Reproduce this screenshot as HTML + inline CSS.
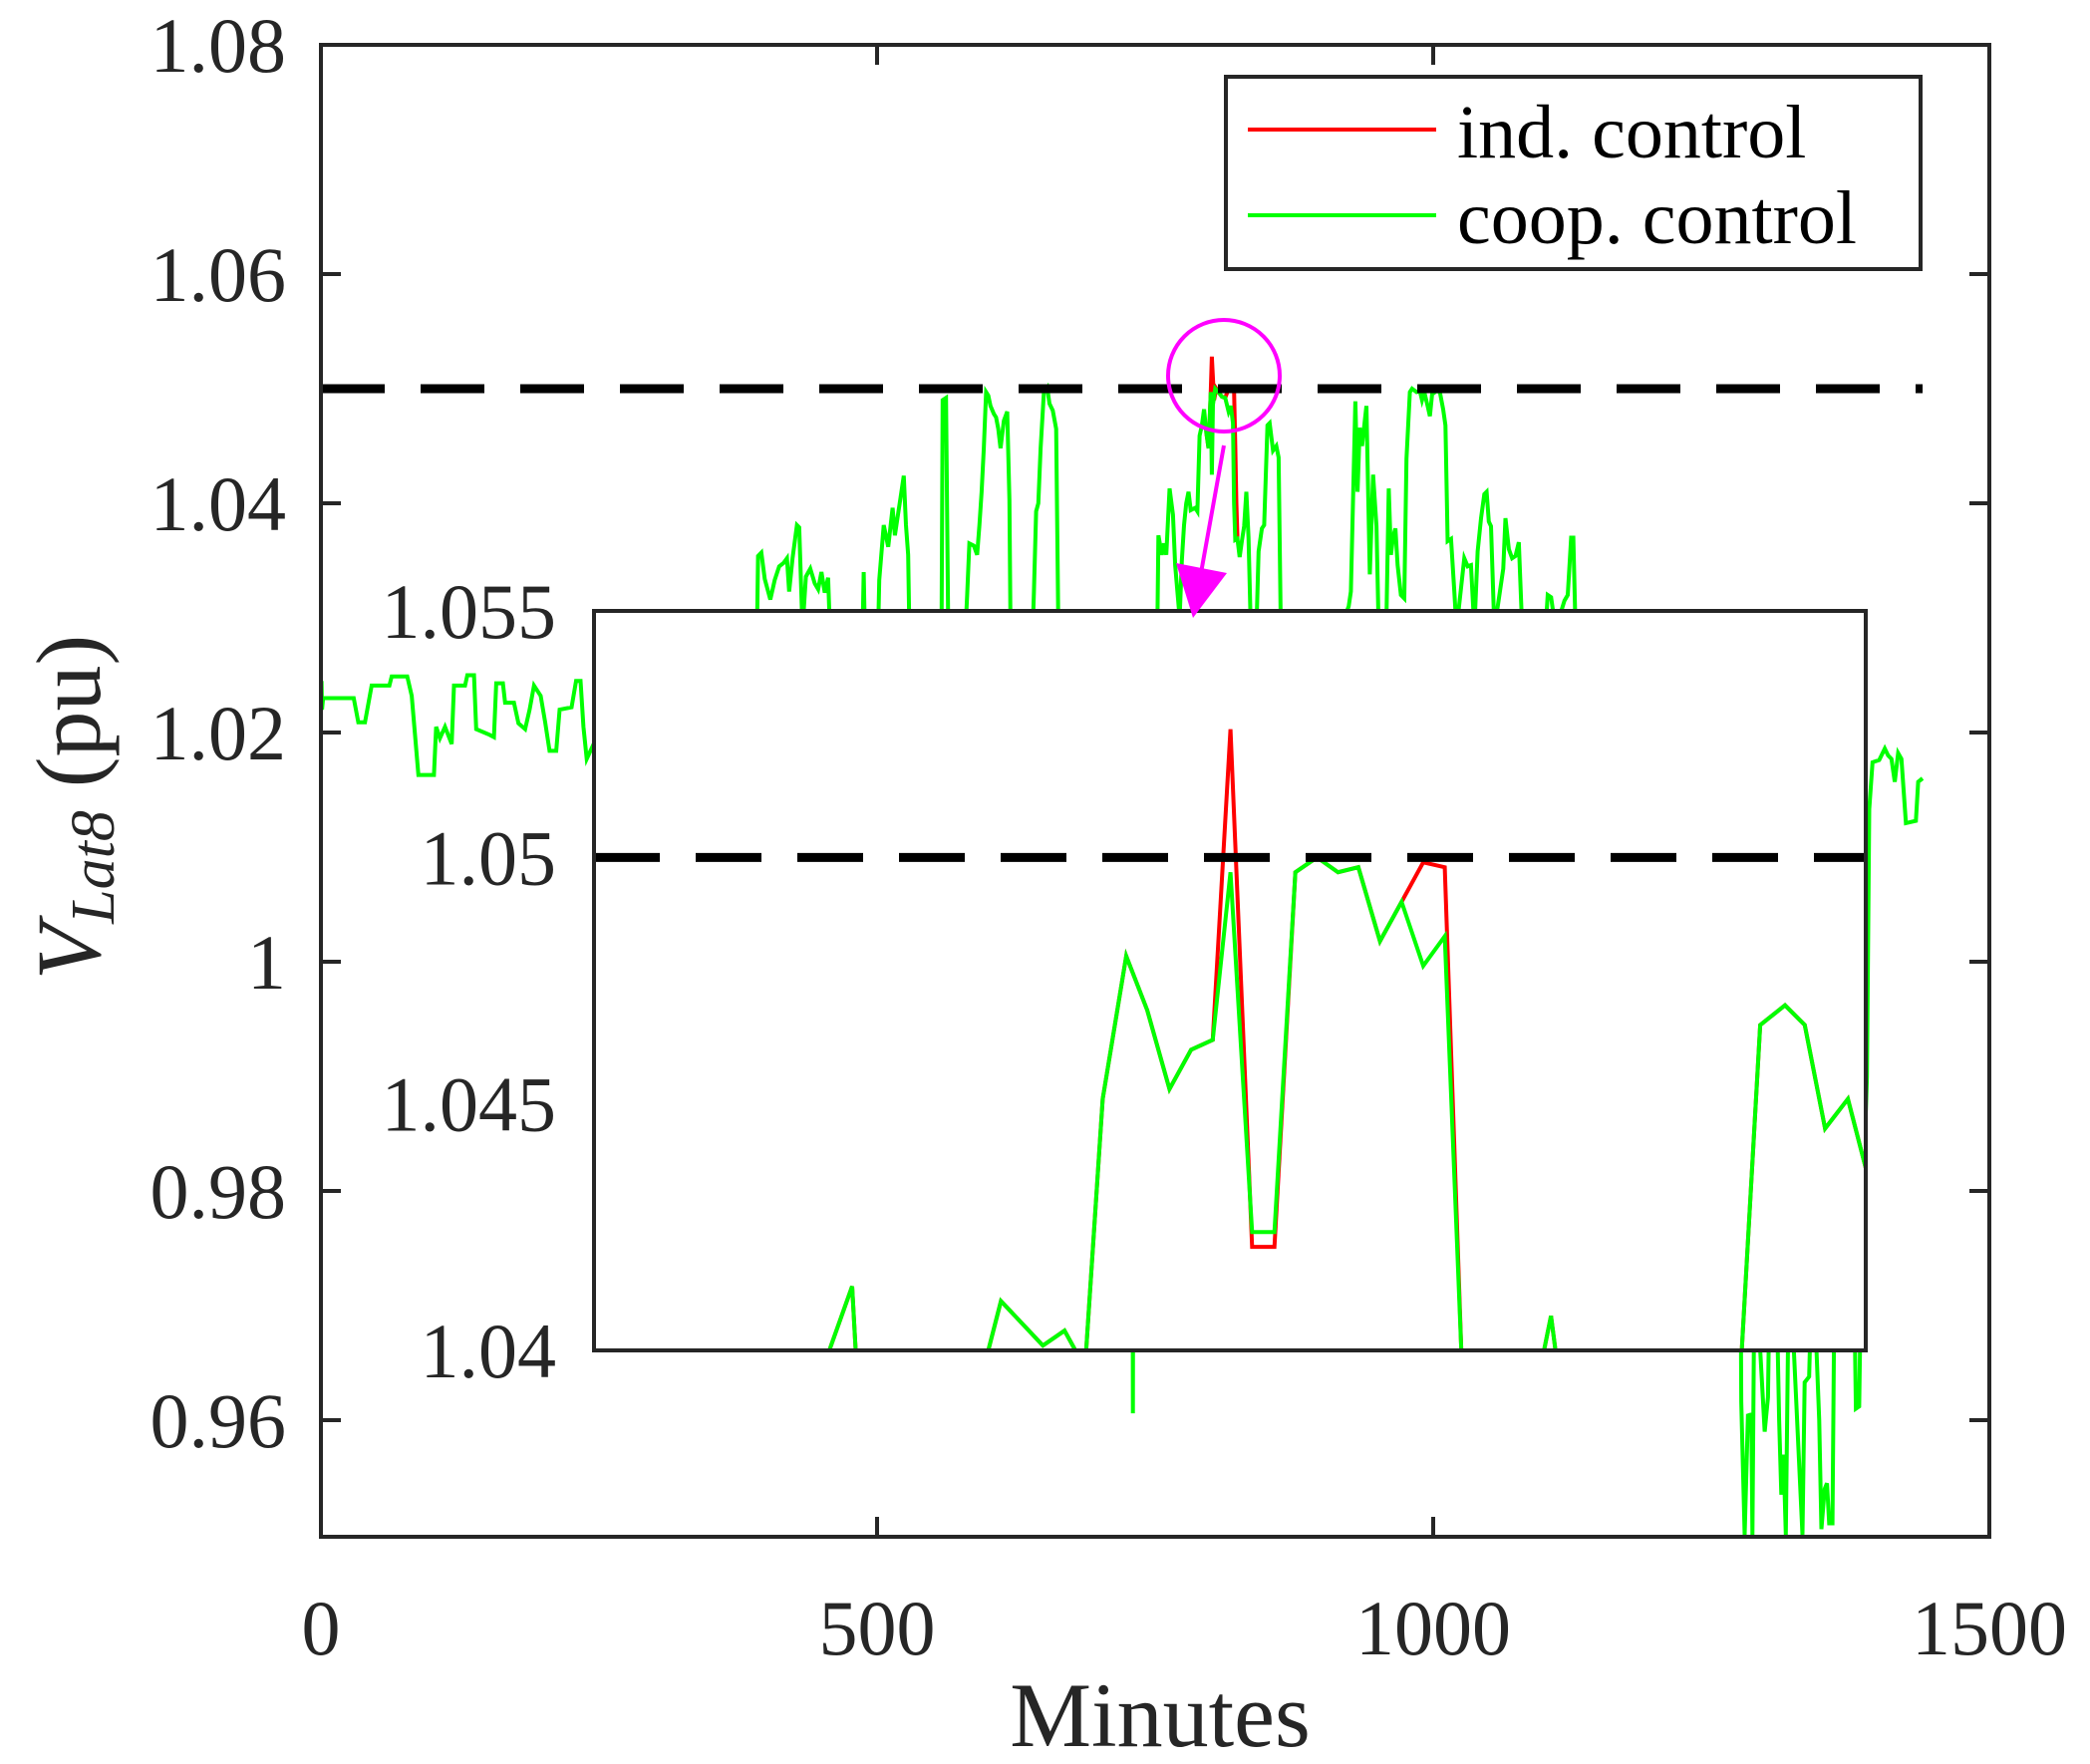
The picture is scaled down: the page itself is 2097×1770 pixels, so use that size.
<!DOCTYPE html>
<html><head><meta charset="utf-8">
<style>
html,body{margin:0;padding:0;background:#fff;}
svg{display:block;}
text{font-family:"Liberation Serif",serif;fill:#262626;}
</style></head>
<body>
<svg id="chart" width="2097" height="1770" viewBox="0 0 2097 1770" xmlns="http://www.w3.org/2000/svg">
<defs>
<clipPath id="mainClip"><rect x="322" y="45" width="1674" height="1497"/></clipPath>
<clipPath id="insetClip"><rect x="596" y="613" width="1276" height="742"/></clipPath>
</defs>
<rect x="0" y="0" width="2097" height="1770" fill="#fff"/>
<g id="mainLayer"></g>
<g id="insetLayer"></g>
<g id="annot"></g>
<g id="legend">
<rect x="1230" y="77" width="697" height="193" fill="#fff" stroke="#262626" stroke-width="4"/>
<line x1="1252" y1="130" x2="1441" y2="130" stroke="#ff0000" stroke-width="4"/>
<text x="1462" y="158" font-size="76" style="fill:#000">ind. control</text>
<line x1="1252" y1="216" x2="1441" y2="216" stroke="#00ff00" stroke-width="4"/>
<text x="1462" y="244" font-size="76" style="fill:#000">coop. control</text>
</g>
<text x="1164" y="1752" font-size="92" text-anchor="middle">Minutes</text>
<text transform="translate(100,810) rotate(-90)" font-size="92" text-anchor="middle"><tspan font-style="italic">V</tspan><tspan font-style="italic" font-size="62" dy="14">Lat8</tspan><tspan dy="-14"> (pu)</tspan></text>
</svg>
<script>
// ---- main chart data ----
const mainMinutes = [0.5,1,2,29.5,33.6,39.6,45.6,61.6,63.6,77.6,81.6,87.6,101.6,103.6,107,111.6,117.6,119.6,129.6,131.6,137.6,139.6,151.6,155.6,157.6,163.6,165.6,173.6,177.6,183.6,187.6,191.6,197.6,201.6,205.6,211.6,214.6,225.4,229.4,233.4,236,239,250,300,360,392,393,396,399,404,408,412,416,419,421,424,428,430,433,436,440,444,447,450,453,456,458,487,488,489,501,502,506,510,514,516,518,521,524,526,528,529,558,559,562,564,580,581,583,587,590,592,594,596,598,600,602,605,607,609,611,614,617,619,620,640,641,643,645,647,650,653,655,658,661,663,700,729,730,731,752,753,756,758,760,763,766,768,772,774,776,778,780,782,786,788,790,792,794,796,798,800,801,802,804,807,810,813,816,818,820,821,822,824,826,828,830,832,834,836,841,843,846,848,851,853,856,859,861,863,900,924,926,930,932,934,936,940,943,946,949,951,958,960,962,964,966,968,971,974,976,979,981,985,988,990,992,995,997,999,1003,1006,1009,1011,1013,1016,1019,1021,1028,1031,1034,1037,1040,1043,1046,1048,1050,1052,1055,1063,1065,1068,1071,1074,1077,1080,1101,1103,1106,1110,1118,1121,1124,1126,1128,1200,1275,1277,1280,1283,1286,1287,1289,1298,1301,1303,1308,1311,1313,1315,1317,1320,1332,1334,1338,1341,1347,1349,1352,1354,1356,1359,1361,1378,1380,1383,1385,1390,1392,1395,1401,1406,1409,1412,1415,1418,1421,1425,1434,1436,1440];
const mainValues = [1.0245,1.022,1.023,1.023,1.0209,1.0209,1.0241,1.0241,1.0249,1.0249,1.0232,1.0163,1.0163,1.0205,1.0195,1.0205,1.019,1.0241,1.0241,1.025,1.025,1.0203,1.0198,1.0196,1.0243,1.0243,1.0226,1.0226,1.0208,1.0203,1.022,1.0241,1.0232,1.0209,1.0184,1.0184,1.022,1.0222,1.0245,1.0245,1.0205,1.0177,1.020,1.025,1.027,1.0288,1.0354,1.0357,1.0334,1.0316,1.0333,1.0345,1.0348,1.0352,1.0323,1.0352,1.0381,1.0379,1.029,1.0336,1.0343,1.033,1.0325,1.034,1.0322,1.0335,1.028,1.029,1.034,1.029,1.029,1.0333,1.0381,1.0362,1.0396,1.0372,1.0385,1.0404,1.0424,1.0381,1.0355,1.029,1.029,1.049,1.0492,1.029,1.030,1.032,1.0365,1.0363,1.0355,1.0381,1.041,1.0448,1.0497,1.0494,1.0485,1.0478,1.0475,1.0465,1.0448,1.0472,1.048,1.0403,1.029,1.029,1.0323,1.0393,1.040,1.0448,1.0497,1.0501,1.0487,1.0481,1.0465,1.029,1.025,1.02,0.9606,1.02,1.029,1.0372,1.0355,1.0365,1.0355,1.0413,1.039,1.0346,1.030,1.035,1.0381,1.040,1.041,1.0394,1.0396,1.0393,1.0459,1.0468,1.0482,1.0462,1.0448,1.0497,1.0425,1.0486,1.050,1.0497,1.0493,1.0492,1.048,1.0485,1.047,1.040,1.0368,1.0369,1.0353,1.0367,1.038,1.041,1.037,1.029,1.029,1.0358,1.0378,1.0381,1.0468,1.047,1.0446,1.045,1.044,1.029,1.025,1.031,1.0323,1.0489,1.041,1.0466,1.045,1.0485,1.0338,1.0425,1.038,1.029,1.030,1.0413,1.0355,1.0371,1.0378,1.0346,1.032,1.0317,1.0439,1.0497,1.050,1.0497,1.0498,1.049,1.0497,1.0485,1.0476,1.0495,1.0498,1.0497,1.0482,1.0468,1.0367,1.0369,1.0323,1.029,1.0352,1.0345,1.0346,1.029,1.0358,1.0387,1.0408,1.041,1.0384,1.038,1.029,1.0343,1.0387,1.036,1.0352,1.0354,1.0366,1.029,1.029,1.032,1.0318,1.029,1.0315,1.032,1.037,1.037,1.029,1.02,1.0,0.9616,0.950,0.9604,0.9605,0.950,0.975,0.959,0.962,0.975,0.975,0.960,0.9535,0.957,0.950,0.975,0.950,0.9633,0.9638,0.975,0.960,0.9505,0.954,0.9545,0.951,0.951,0.975,0.975,0.961,0.9612,0.975,0.990,1.0133,1.0174,1.0176,1.0186,1.018,1.0177,1.0157,1.0182,1.0177,1.0121,1.0123,1.0157,1.016];
// red (ind. control) differs only around the spike
const redMinutes = [796,798,800,801,803,805,807,810,813,816,818,820,821,822,823,824];
const redValues = [1.0462,1.0448,1.0497,1.0528,1.049,1.050,1.0497,1.0493,1.0492,1.050,1.050,1.050,1.0498,1.045,1.040,1.0369];
const xTicks = [0,500,1000,1500];
const xTickLabels = ["0","500","1000","1500"];
const yTicks = [0.96,0.98,1.0,1.02,1.04,1.06,1.08];
const yTickLabels = ["0.96","0.98","1","1.02","1.04","1.06","1.08"];
const limitValue = [1.05];
// ---- inset data ----
const insetMinutes = [725,737,740.6,742,760,762,764,770.6,774,775.7,776.5,777.4,780,783.7,787,790.5,793.9,797.3,800.1,803.5,807,810.3,813.7,817,820.2,823.6,827,830.4,833.8,836.4,837,849,849.4,850.5,851.2,852,879,880.5,883.4,887.3,890.4,893.6,897.2,900];
const insetGreen = [1.038,1.040,1.0413,1.038,1.038,1.040,1.041,1.0401,1.0404,1.040,1.0395,1.040,1.0451,1.048,1.0469,1.0453,1.0461,1.0463,1.0497,1.0424,1.0424,1.0497,1.050,1.0497,1.0498,1.0483,1.0491,1.0478,1.0484,1.040,1.038,1.038,1.040,1.0407,1.040,1.038,1.038,1.040,1.0466,1.047,1.0466,1.0445,1.0451,1.0437];
const insetRed = [1.038,1.040,1.0413,1.038,1.038,1.040,1.041,1.0401,1.0404,1.040,1.0395,1.040,1.0451,1.048,1.0469,1.0453,1.0461,1.0463,1.0526,1.0421,1.0421,1.0497,1.050,1.0497,1.0498,1.0483,1.0491,1.0499,1.0498,1.040,1.038,1.038,1.040,1.0407,1.040,1.038,1.038,1.040,1.0466,1.047,1.0466,1.0445,1.0451,1.0437];
const insetYTicks = [1.04,1.045,1.05,1.055];
const insetYTickLabels = ["1.04","1.045","1.05","1.055"];

const NS = "http://www.w3.org/2000/svg";
function X(m){return 322 + (m-0)/1500*1674;}
function Y(v){return 45 + (1.08-v)/0.13*1495;}
function IX(m){return 596 + (m-700)/200*1276;}
function IY(v){return 613 + (1.055-v)/0.015*742;}
function mk(tag, parent){const e=document.createElementNS(NS,tag);parent.appendChild(e);return e;}
function pts(xs,vs,fx,fy){return xs.map((m,i)=>fx(m).toFixed(1)+","+fy(vs[i]).toFixed(1)).join(" ");}

const main = document.getElementById("mainLayer");
const mg = mk("g", main);
mg.setAttribute("clip-path","url(#mainClip)");
const redLine = mk("polyline", mg);


redLine.setAttribute("points", pts(redMinutes, redValues, X, Y));
redLine.setAttribute("fill","none"); redLine.setAttribute("stroke","#ff0000"); redLine.setAttribute("stroke-width","4");
const greenLine = mk("polyline", mg);


greenLine.setAttribute("points", pts(mainMinutes, mainValues, X, Y));
greenLine.setAttribute("fill","none"); greenLine.setAttribute("stroke","#00ff00"); greenLine.setAttribute("stroke-width","4");
const dash = mk("line", mg);


dash.setAttribute("x1",X(0)); dash.setAttribute("x2",X(1440));
dash.setAttribute("y1",Y(limitValue[0])); dash.setAttribute("y2",Y(limitValue[0]));
dash.setAttribute("stroke","#000"); dash.setAttribute("stroke-width","9"); dash.setAttribute("stroke-dasharray","64 36");

// axes box
const box = mk("rect", main);


box.setAttribute("x",322); box.setAttribute("y",45); box.setAttribute("width",1674); box.setAttribute("height",1497);
box.setAttribute("fill","none"); box.setAttribute("stroke","#262626"); box.setAttribute("stroke-width","4");
xTicks.forEach((t,i)=>{
  const x = X(t);
  [[1542,1522],[45,65]].forEach(([a,b])=>{
    const l = mk("line", main);
    
    
    l.setAttribute("x1",x);l.setAttribute("x2",x);l.setAttribute("y1",a);l.setAttribute("y2",b);
    l.setAttribute("stroke","#262626");l.setAttribute("stroke-width","4");
  });
  const tx = mk("text", main);
  
  
  tx.setAttribute("x",x); tx.setAttribute("y",1660); tx.setAttribute("font-size","78"); tx.setAttribute("text-anchor","middle");
  tx.textContent = xTickLabels[i];
});
yTicks.forEach((t,i)=>{
  const y = Y(t);
  [[322,342],[1996,1976]].forEach(([a,b])=>{
    const l = mk("line", main);
    
    
    l.setAttribute("x1",a);l.setAttribute("x2",b);l.setAttribute("y1",y);l.setAttribute("y2",y);
    l.setAttribute("stroke","#262626");l.setAttribute("stroke-width","4");
  });
  const tx = mk("text", main);
  
  
  tx.setAttribute("x",287); tx.setAttribute("y",y+27); tx.setAttribute("font-size","78"); tx.setAttribute("text-anchor","end");
  tx.textContent = yTickLabels[i];
});

// ---- inset ----
const inset = document.getElementById("insetLayer");
const ibg = mk("rect", inset);


ibg.setAttribute("x",596); ibg.setAttribute("y",613); ibg.setAttribute("width",1276); ibg.setAttribute("height",742); ibg.setAttribute("fill","#fff");
const ig = mk("g", inset);
ig.setAttribute("clip-path","url(#insetClip)");
const ir = mk("polyline", ig);


ir.setAttribute("points", pts(insetMinutes, insetRed, IX, IY));
ir.setAttribute("fill","none"); ir.setAttribute("stroke","#ff0000"); ir.setAttribute("stroke-width","4");
const igr = mk("polyline", ig);


igr.setAttribute("points", pts(insetMinutes, insetGreen, IX, IY));
igr.setAttribute("fill","none"); igr.setAttribute("stroke","#00ff00"); igr.setAttribute("stroke-width","4");
const idash = mk("line", ig);


idash.setAttribute("x1",596); idash.setAttribute("x2",1872);
idash.setAttribute("y1",IY(limitValue[0])); idash.setAttribute("y2",IY(limitValue[0]));
idash.setAttribute("stroke","#000"); idash.setAttribute("stroke-width","9"); idash.setAttribute("stroke-dasharray","66 36");
const ibox = mk("rect", inset);


ibox.setAttribute("x",596); ibox.setAttribute("y",613); ibox.setAttribute("width",1276); ibox.setAttribute("height",742);
ibox.setAttribute("fill","none"); ibox.setAttribute("stroke","#262626"); ibox.setAttribute("stroke-width","4");
insetYTicks.forEach((t,i)=>{
  const tx = mk("text", inset);
  
  
  tx.setAttribute("x",558); tx.setAttribute("y",IY(t)+27); tx.setAttribute("font-size","78"); tx.setAttribute("text-anchor","end");
  tx.textContent = insetYTickLabels[i];
});

// ---- annotation ----
const an = document.getElementById("annot");
const c = mk("circle", an);


c.setAttribute("cx",1228); c.setAttribute("cy",377); c.setAttribute("r",56);
c.setAttribute("fill","none"); c.setAttribute("stroke","#ff00ff"); c.setAttribute("stroke-width","4");
const al = mk("line", an);


al.setAttribute("x1",1228); al.setAttribute("y1",447); al.setAttribute("x2",1205); al.setAttribute("y2",575);
al.setAttribute("stroke","#ff00ff"); al.setAttribute("stroke-width","4");
const ah = mk("polygon", an);


ah.setAttribute("points","1180,565 1231,575 1197,620");
ah.setAttribute("fill","#ff00ff");
</script>
</body></html>
